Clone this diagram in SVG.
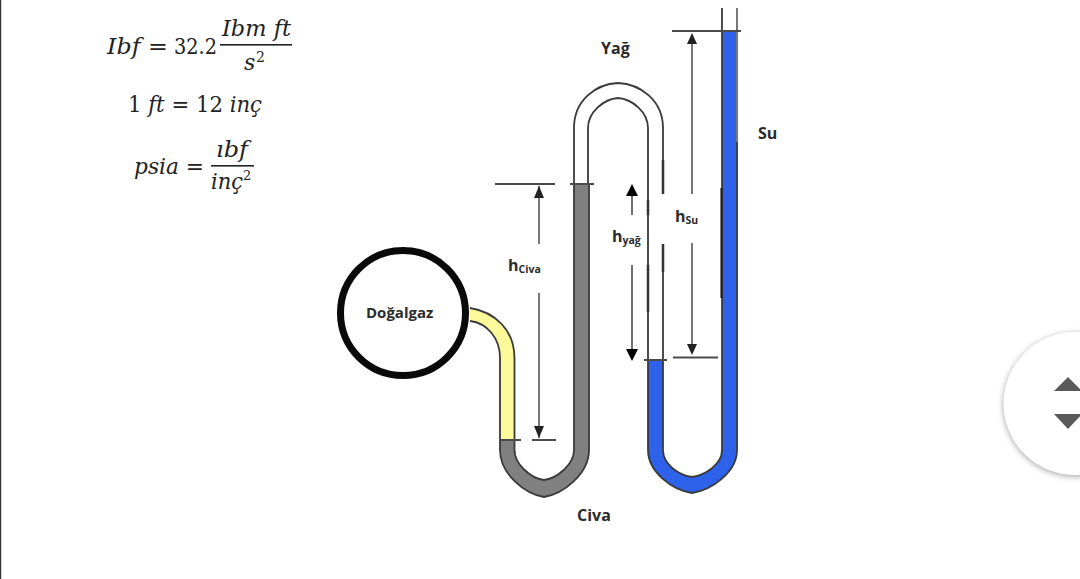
<svg xmlns="http://www.w3.org/2000/svg" width="1080" height="579" viewBox="0 0 1080 579">
<style>
.l{font-family:"Open Sans","Liberation Sans",sans-serif;font-weight:700;fill:#2b2b2b;font-size:15px}
.b{font-size:16px}
.m{font-family:"DejaVu Serif","Liberation Serif",serif;fill:#222;font-size:22px}
.i{font-style:italic}
.r{font-style:normal}
.t{fill:none;stroke:#3a3a3a;stroke-width:1.8}
.d{stroke:#4a4a4a;stroke-width:1.8;fill:none}
.a{stroke:#555;stroke-width:1.6;fill:none}
</style>
<defs>
<filter id="sh" x="-20%" y="-20%" width="140%" height="140%"><feGaussianBlur stdDeviation="3"/></filter>
</defs>
<rect width="1080" height="579" fill="#fff"/>
<rect x="0" y="0" width="1.2" height="579" fill="#333"/>
<g id="formulas">
<text class="m i" x="107" y="54" textLength="61" lengthAdjust="spacingAndGlyphs">Ibf <tspan class="r">=</tspan></text>
<text class="m" x="174" y="54" textLength="43" lengthAdjust="spacingAndGlyphs">32.2</text>
<text class="m i" x="222" y="36" textLength="69" lengthAdjust="spacingAndGlyphs">Ibm ft</text>
<rect x="220" y="44" width="72" height="1.6" fill="#222"/>
<text class="m i" x="244" y="70">s</text><text class="m" x="256" y="62" style="font-size:14px">2</text>
<text class="m i" x="128" y="112" textLength="134" lengthAdjust="spacingAndGlyphs"><tspan class="r">1</tspan> ft <tspan class="r">= 12</tspan> inç</text>
<text class="m i" x="134" y="174" textLength="70" lengthAdjust="spacingAndGlyphs">psia <tspan class="r">=</tspan></text>
<text class="m i" x="216" y="157" textLength="32" lengthAdjust="spacingAndGlyphs">ıbf</text>
<rect x="211" y="165" width="43" height="1.6" fill="#222"/>
<text class="m i" x="211" y="189" textLength="32" lengthAdjust="spacingAndGlyphs">inç</text><text class="m" x="243" y="180" style="font-size:13px">2</text>
</g>
<g id="dogalgaz">
<path d="M470 308C495 312 514.500 330 514.500 358V440H500V358C500 338 487 323 470 321Z" fill="#fdf89a"/>
<path class="t" d="M470 308C495 312 514.500 330 514.500 358V440M470 321C487 323 500 338 500 358V440"/>
<circle cx="403" cy="313" r="62.500" fill="#fff" stroke="#0a0a0a" stroke-width="7"/>
<text class="l" x="366" y="318">Doğalgaz</text>
</g>
<g id="civa">
<path d="M500 440V450C500 474 525 494 544 497C563 494 589 474 589 450V184H574V450C574 464 558 478 544 480C530 478 514.500 464 514.500 450V440Z" fill="#808080"/>
<path class="t" d="M500 440V450C500 474 525 494 544 497C563 494 589 474 589 450V184M514.500 440V450C514.500 464 530 478 544 480C558 478 574 464 574 450V184"/>
<text class="l b" x="577" y="521">Civa</text>
</g>
<g id="yag">
<path class="t" d="M574 184V128C574 100 596 84 618 83C640 84 663 100 663 128V194M588 184V128C588 112 604 99 618 98C632 99 648 112 648 128V360"/>
<path d="M663 160V194M648 200V215" stroke="#333" stroke-width="2.500" fill="none"/>
<path class="t" d="M663 244V360"/>
<path d="M663 244V272M648 265V312" stroke="#333" stroke-width="2.500" fill="none"/>
<text class="l b" x="601" y="54">Yağ</text>
</g>
<g id="su">
<path d="M648 360V450C648 472 672 490 692 493C712 490 737 472 737 450V31H722V450C722 464 706 475 692 477C678 475 663 464 663 450V360Z" fill="#2f62ea"/>
<path class="t" d="M648 360V450C648 472 672 490 692 493C712 490 737 472 737 450V142M663 360V450C663 464 678 475 692 477C706 475 722 464 722 450V8"/>
<path d="M737 8V142" stroke="#777" stroke-width="2" fill="none"/>
<path d="M721.500 188V298" stroke="#222" stroke-width="2.200" fill="none"/>
<text class="l b" x="758" y="139">Su</text>
</g>
<g id="connectors">
<path class="d" d="M495 184H555M570 184H594M499 440H521M532 440H556M672 31H741M673 357.500H718M644 360H667"/>
<path class="a" d="M539 186V244M539 293V438M692 36V194M692 243V350"/>
<path d="M632 215V195M632 265V350" stroke="#333" stroke-width="1.400" fill="none"/>
<path d="M539 186L544 198H534ZM539 438L544 426H534ZM692 33L697 44H687ZM692 355L697 344H687Z" fill="#222"/>
<path d="M632 184L638 196H626ZM632 361L638 349H626Z" fill="#000"/>
<text class="l b" x="508" y="271">h<tspan dy="2" style="font-size:10.500px">Civa</tspan></text>
<text class="l b" x="612" y="242">h<tspan dy="2" style="font-size:10.500px">yağ</tspan></text>
<text class="l b" x="675" y="222">h<tspan dy="2" style="font-size:10.500px">Su</tspan></text>
</g>
<g id="scroll-control">
<circle cx="1075" cy="405" r="71.500" fill="#000" opacity=".35" filter="url(#sh)"/>
<circle cx="1075" cy="403.500" r="71.500" fill="#fff"/>
<path d="M1068 377L1082 391H1054ZM1068 429L1082 414H1054Z" fill="#5a5a5a"/>
</g>
</svg>
